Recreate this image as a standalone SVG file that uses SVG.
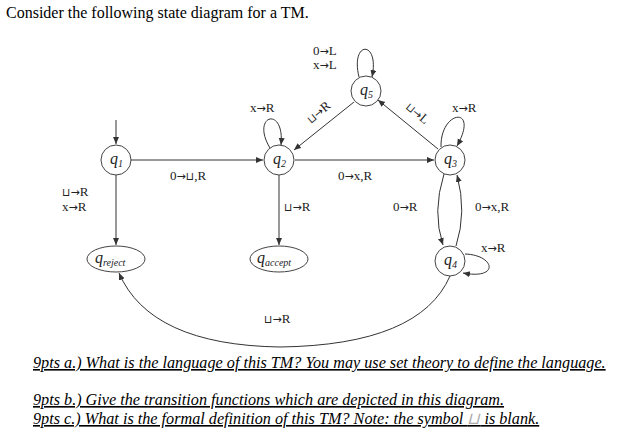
<svg xmlns="http://www.w3.org/2000/svg" width="638" height="441" viewBox="0 0 638 441">
<style>
.n{fill:#fff;stroke:#444;stroke-width:1}
.e{fill:none;stroke:#333;stroke-width:1}
.t{font-family:"Liberation Serif",serif;font-size:13px;fill:#222}
.r{font-family:"DejaVu Sans",sans-serif;font-size:11px}
.q{font-family:"Liberation Serif",serif;font-size:16px;font-style:italic;fill:#222}
.h{font-family:"Liberation Serif",serif;font-size:16px;fill:#000}
.u{font-family:"Liberation Serif",serif;font-size:16.2px;font-style:italic;fill:#000;text-decoration:underline}
</style>
<defs><marker id="a" markerWidth="8" markerHeight="8" refX="7" refY="3" orient="auto" markerUnits="userSpaceOnUse"><path d="M0,0L7,3L0,6z" fill="#333"/></marker></defs>
<rect width="638" height="441" fill="#fff"/>
<text class="h" x="6" y="18">Consider the following state diagram for a TM.</text>
<g id="connectors">
<path class="e" marker-end="url(#a)" d="M116,120V144"/>
<path class="e" marker-end="url(#a)" d="M131,160H263"/>
<path class="e" marker-end="url(#a)" d="M295,160H434"/>
<path class="e" marker-end="url(#a)" d="M116,175V245"/>
<path class="e" marker-end="url(#a)" d="M279,175V245"/>
<path class="e" marker-end="url(#a)" d="M354,102L294,150"/>
<path class="e" marker-end="url(#a)" d="M438,149L378,100"/>
<path class="e" marker-end="url(#a)" d="M444,174Q432,212 443,245"/>
<path class="e" marker-end="url(#a)" d="M456,246Q467,212 457,175"/>
<path class="e" marker-end="url(#a)" d="M450,276Q420,345 280,347Q150,345 119,273"/>
<path class="e" marker-end="url(#a)" d="M270,148C250,115 285,105 281,145"/>
<path class="e" marker-end="url(#a)" d="M359,77C350,40 380,40 372,77"/>
<path class="e" marker-end="url(#a)" d="M441,147C440,110 480,105 457,146"/>
<path class="e" marker-end="url(#a)" d="M465,254C495,255 500,280 463,273"/>
</g>
<g id="q1"><circle class="n" cx="116" cy="160" r="15"/><text class="q" x="110" y="164">q<tspan font-size="10" dy="3">1</tspan></text></g>
<g id="q2"><circle class="n" cx="279" cy="160" r="15"/><text class="q" x="273" y="164">q<tspan font-size="10" dy="3">2</tspan></text></g>
<g id="q3"><circle class="n" cx="450" cy="160" r="15"/><text class="q" x="444" y="164">q<tspan font-size="10" dy="3">3</tspan></text></g>
<g id="q4"><circle class="n" cx="450" cy="261" r="15"/><text class="q" x="444" y="265">q<tspan font-size="10" dy="3">4</tspan></text></g>
<g id="q5"><circle class="n" cx="366" cy="91" r="15"/><text class="q" x="360" y="95">q<tspan font-size="10" dy="3">5</tspan></text></g>
<g id="qreject"><ellipse class="n" cx="116" cy="259" rx="29" ry="13"/><text class="q" x="95" y="263">q<tspan font-size="10" dy="3">reject</tspan></text></g>
<g id="qaccept"><ellipse class="n" cx="279" cy="259" rx="29" ry="13"/><text class="q" x="257" y="263">q<tspan font-size="10" dy="3">accept</tspan></text></g>
<g id="labels">
<text class="t" x="170" y="180">0<tspan class="r">→⊔</tspan>,R</text>
<text class="t" x="338" y="180">0<tspan class="r">→</tspan>x,R</text>
<text class="t" x="250" y="112">x<tspan class="r">→</tspan>R</text>
<text class="t" x="313" y="55">0<tspan class="r">→</tspan>L</text>
<text class="t" x="313" y="69">x<tspan class="r">→</tspan>L</text>
<text class="t" transform="translate(311,124) rotate(-40)"><tspan class="r">⊔→</tspan>R</text>
<text class="t" transform="translate(405,108) rotate(40)"><tspan class="r">⊔→</tspan>L</text>
<text class="t" x="452" y="112">x<tspan class="r">→</tspan>R</text>
<text class="t" x="62" y="196"><tspan class="r">⊔→</tspan>R</text>
<text class="t" x="62" y="211">x<tspan class="r">→</tspan>R</text>
<text class="t" x="284" y="211"><tspan class="r">⊔→</tspan>R</text>
<text class="t" x="393" y="211">0<tspan class="r">→</tspan>R</text>
<text class="t" x="475" y="211">0<tspan class="r">→</tspan>x,R</text>
<text class="t" x="481" y="252">x<tspan class="r">→</tspan>R</text>
<text class="t" x="264" y="323"><tspan class="r">⊔→</tspan>R</text>
</g>
<text class="u" x="33" y="368">9pts a.) What is the language of this TM? You may use set theory to define the language.</text>
<text class="u" x="33" y="405">9pts b.) Give the transition functions which are depicted in this diagram.</text>
<text class="u" x="33" y="424">9pts c.) What is the formal definition of this TM? Note: the symbol <tspan fill="#aaa">⊔</tspan>  is blank.</text>
</svg>
